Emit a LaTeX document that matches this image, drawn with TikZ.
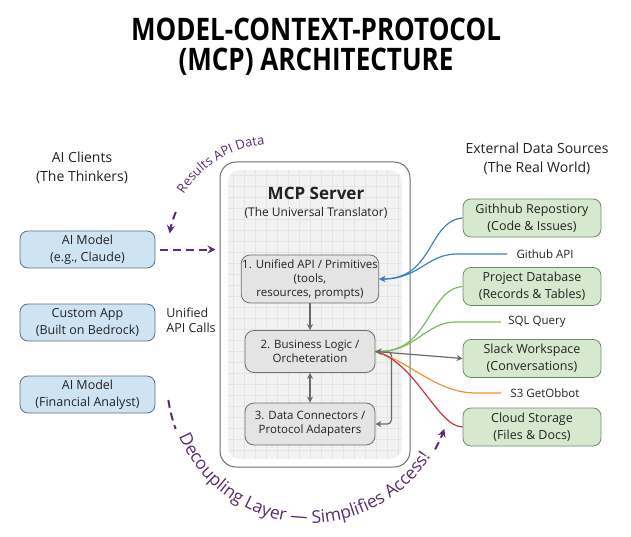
\documentclass[tikz,border=0pt]{standalone}
\usepackage{fontspec}
\setmainfont{Open Sans}
\newfontfamily\titlefont{Open Sans}[FakeStretch=0.84]
\usetikzlibrary{arrows.meta,decorations.text}

\definecolor{clientfill}{HTML}{CFE4F3}
\definecolor{clientdraw}{HTML}{5E6F7E}
\definecolor{srcfill}{HTML}{D6E9CF}
\definecolor{srcdraw}{HTML}{6E8C68}
\definecolor{layerfill}{HTML}{E4E4E4}
\definecolor{layerdraw}{HTML}{6E6E6E}
\definecolor{gridbg}{HTML}{F2F2F2}
\definecolor{gridln}{HTML}{E4E4E4}
\definecolor{purp}{HTML}{5A2D6E}
\definecolor{lnblue}{HTML}{3C80C4}
\definecolor{lngreen}{HTML}{7DB862}
\definecolor{lnorange}{HTML}{F0923A}
\definecolor{lnred}{HTML}{C8353A}
\definecolor{lngray}{HTML}{6A6A6A}
\definecolor{ink}{HTML}{222222}

\begin{document}
\begin{tikzpicture}[x=1pt,y=-1pt,text=ink,
  client/.style={draw=clientdraw,fill=clientfill,rounded corners=8pt,line width=0.8pt,
    minimum width=135pt,minimum height=37pt,align=center,inner sep=1pt,
    font=\fontsize{12.5}{17}\selectfont},
  source/.style={draw=srcdraw,fill=srcfill,rounded corners=8pt,line width=0.8pt,
    minimum width=138pt,minimum height=38pt,align=center,inner sep=1pt,
    font=\fontsize{12.5}{17}\selectfont},
  layer/.style={draw=layerdraw,fill=layerfill,rounded corners=9pt,line width=0.8pt,
    minimum width=130pt,align=center,inner sep=1pt,font=\fontsize{11.5}{14}\selectfont},
  tag/.style={font=\fontsize{11.5}{14}\selectfont},
  flow/.style={line width=1.2pt,-{Stealth[length=6pt,width=6pt]}},
  purpdash/.style={purp,line width=2pt,dash pattern=on 8pt off 5pt,-{Stealth[length=8pt,width=8pt]}}]
\useasboundingbox (0,0) rectangle (631,537);

% title and headers
\node[font=\titlefont\bfseries\fontsize{31}{30}\selectfont,align=center,text=black] (title) at (316,47)
  {MODEL-CONTEXT-PROTOCOL\\(MCP) ARCHITECTURE};
\node[align=center,font=\fontsize{14}{19}\selectfont] (clients) at (82,168) {AI Clients\\(The Thinkers)};
\node[align=center,font=\fontsize{14}{19}\selectfont] (sources) at (537,159) {External Data Sources\\(The Real World)};

% server frame with grid
\node[draw=layerdraw,line width=1pt,rounded corners=16pt,fill=white,
  minimum width=190pt,minimum height=305pt] (server) at (315,314.5) {};
\begin{scope}
\clip[rounded corners=12pt] (228,170) rectangle (402,459);
\fill[gridbg] (228,170) rectangle (402,459);
\foreach \gx in {233,244,...,400} \draw[gridln,line width=0.5pt] (\gx,170) -- (\gx,459);
\foreach \gy in {175,186,...,459} \draw[gridln,line width=0.5pt] (228,\gy) -- (402,\gy);
\end{scope}
\node[font=\bfseries\fontsize{17}{20}\selectfont] (srvname) at (316,193) {MCP Server};
\node[font=\fontsize{12}{14}\selectfont] (srvsub) at (316,213) {(The Universal Translator)};

\node[layer,minimum height=48pt] (api) at (310,279) {1. Unified API / Primitives\\(tools,\\resources, prompts)};
\node[layer,minimum height=42pt] (logic) at (310,351.5) {2. Business Logic /\\Orcheteration};
\node[layer,minimum height=42pt] (conn) at (310,424) {3. Data Connectors /\\Protocol Adapaters};

\draw[lngray,flow] (api.south) -- (logic.north);
\draw[lngray,flow,{Stealth[length=6pt,width=6pt]}-{Stealth[length=6pt,width=6pt]}] (logic.south) -- (conn.north);
\draw[lngray,flow,rounded corners=4pt] (logic.east) -| ([xshift=16pt]conn.east) -- (conn.east);

% clients
\foreach \name/\y/\top/\sub in {claude/249.5/AI Model/{(e.g., Claude)},
  bedrock/322.5/Custom App/{(Built on Bedrock)},
  analyst/394.5/AI Model/{(Financial Analyst)}}
  \node[client] (\name) at (87.5,\y) {\top\\\sub};
\node[align=left,font=\fontsize{12.5}{15}\selectfont] (calls) at (191,320) {Unified\\API Calls};

% sources
\foreach \name/\y/\top/\sub in {github/218/Githhub Repostiory/{(Code \& Issues)},
  projdb/286.5/Project Database/{(Records \& Tables)},
  slack/358.5/Slack Workspace/{(Conversations)},
  cloud/427/Cloud Storage/{(Files \& Docs)}}
  \node[source] (\name) at (532,\y) {\top\\\sub};
\node[tag] (ghapi) at (545,254) {Github API};
\node[tag] (sql) at (537,322) {SQL Query};
\node[tag] (s3) at (545,393) {S3 GetObbot};

% data lines
\draw[lnblue,flow] (github.west) .. controls +(-35,3) and +(55,0) .. (api.east);
\draw[lnblue,flow] ([xshift=-6pt]ghapi.west) -- ++(-50,0) .. controls +(-30,0) and +(40,0) .. (api.east);
\draw[lngreen,flow] (projdb.west) .. controls +(-35,3) and +(55,0) .. (logic.east);
\draw[lngreen,flow] ([xshift=-4pt]sql.west) -- ++(-45,0) .. controls +(-30,0) and +(40,0) .. (logic.east);
\draw[lnorange,line width=1.2pt] ([xshift=-6pt]s3.west) -- ++(-25,0) .. controls +(-40,0) and +(35,10) .. (logic.east);
\draw[lnred,line width=1.2pt] (cloud.west) .. controls +(-25,0) and +(40,10) .. (logic.east);
\draw[lngray,flow,{Stealth[length=6pt,width=6pt]}-{Stealth[length=6pt,width=6pt]}] (logic.east) -- (slack.west);

% client to server
\draw[purpdash,shorten <=5pt,shorten >=4pt] (claude.east) -- (claude.east -| server.west);
\coordinate (rc) at (275,252);
\path[decorate,decoration={text along path,text align=center,
  text={|\fontsize{13}{13}\selectfont\color{purp}|Results API Data}}]
  (rc) ++(207:108) arc[start angle=207,end angle=270,radius=108];
\draw[purpdash] (rc) ++(202:107) arc[start angle=202,end angle=190,radius=107];

% decoupling arc
\coordinate (dc) at (310,380);
\draw[purp,line width=2pt,dash pattern=on 8pt off 5pt] (dc) ++(172:143) arc[start angle=172,end angle=160,radius=143];
\path[decorate,decoration={text along path,text align=center,
  text={|\fontsize{17.5}{17.5}\selectfont\color{purp}|Decoupling Layer — Simplifies Access!}}]
  (dc) ++(158:143) arc[start angle=158,end angle=31,radius=143];
\draw[purpdash] (dc) ++(29:143) arc[start angle=29,end angle=20,radius=143];
\end{tikzpicture}
\end{document}
